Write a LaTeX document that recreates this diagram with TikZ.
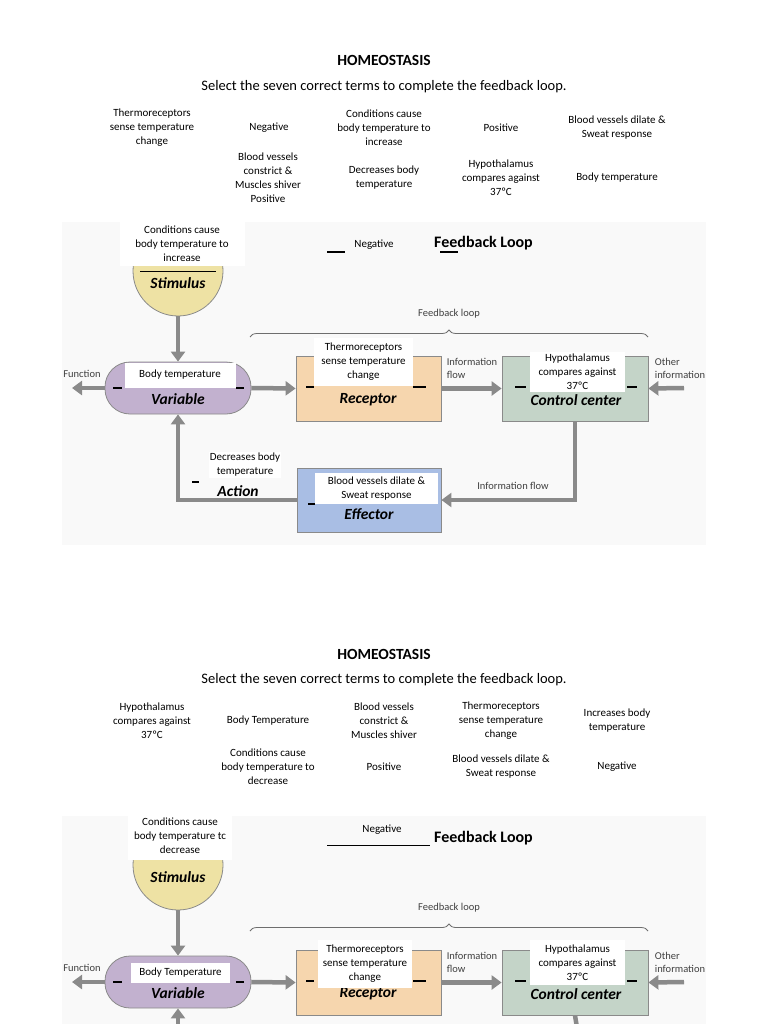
\documentclass[tikz,border=0pt]{standalone}
\usepackage{fontspec}
\setmainfont{Carlito}
\usetikzlibrary{arrows.meta,decorations.pathreplacing}
\definecolor{ag}{HTML}{8A8A8A}
\definecolor{bg}{HTML}{F9F9F9}
\definecolor{stimf}{HTML}{EEE2A4}
\definecolor{varf}{HTML}{C2B1CF}
\definecolor{recf}{HTML}{F6D6AE}
\definecolor{ctlf}{HTML}{C4D4C8}
\definecolor{efff}{HTML}{A9BEE4}
\tikzset{
 lab/.style={font=\fontsize{11}{14}\selectfont, align=center, inner sep=1pt},
 opt/.style={font=\fontsize{11}{14}\selectfont, align=center, inner sep=0pt},
 wbox/.style={lab, fill=white},
 small/.style={font=\fontsize{10.5}{13}\selectfont, align=left, text=black!75, inner sep=0pt},
 big/.style={font=\bfseries\itshape\fontsize{15.5}{17}\selectfont, inner sep=0pt},
 box/.style={draw=ag, line width=0.8pt},
 flow/.style={draw=ag, line width=4.5pt, -{Triangle[length=10pt,width=14pt]}},
 blankln/.style={line width=1.3pt},
 ttl/.style={font=\bfseries\fontsize{15.5}{18}\selectfont},
 sub/.style={font=\fontsize{14.5}{17}\selectfont},
 fbt/.style={font=\bfseries\fontsize{16}{18}\selectfont, anchor=west, inner sep=0pt},
}
\newcommand{\fbcore}{%
 \fill[bg] (62,222) rectangle (706,545);
 \node[circle, box, fill=stimf, minimum size=90pt] (stim) at (178,271) {};
 \node[box, fill=varf, rounded corners=25pt, minimum width=146pt, minimum height=52pt] (var) at (178,388) {};
 \node[box, fill=recf, minimum width=145pt, minimum height=65pt] (rec) at (368.5,388.5) {};
 \node[box, fill=ctlf, minimum width=146pt, minimum height=65pt] (ctl) at (575,388.5) {};
 \coordinate (fn) at (72,388);
 \coordinate (oi) at (684,388);
 \draw[flow] (stim.south) -- (var.north);
 \draw[flow] (var.west) -- (fn);
 \draw[flow] (var.east) -- (rec.west);
 \draw[flow] (rec.east) -- (ctl.west);
 \draw[flow] (oi) -- (ctl.east);
 \node[small] (fnl) at (82,374) {Function};
 \node[small] (ifl) at (472,368) {Information\\flow};
 \node[small] (oil) at (680,368) {Other\\information};
 \draw[ag!80!black, line width=0.8pt, decorate, decoration={brace, amplitude=7pt}] (250,337) -- (648,337);
 \node[small] (fbl) at (449,314) {Feedback loop};
 \node[big] (vart) at (178,399) {Variable};
 \node[big] (rect) at (368,400) {Receptor};
 \node[big] (ctlt) at (576,400) {Control center};
 \node[big] (stimt) at (178,283) {Stimulus};
 \draw[blankln] (113,388) -- (122,388) (236,388) -- (244,388);
 \draw[blankln] (306,387) -- (314,387) (413,387) -- (426,387);
 \draw[blankln] (515,387) -- (526,387) (627,387) -- (637,387);
}
\begin{document}
\begin{tikzpicture}[x=1pt,y=-1pt]
\useasboundingbox[fill=white] (0,0) rectangle (768,1024);
\begin{scope}
\clip (0,0) rectangle (768,1024);
% ---------- top page ----------
\node[ttl] (t1) at (384,60) {HOMEOSTASIS};
\node[sub] (s1) at (384,87) {Select the seven correct terms to complete the feedback loop.};
\node[opt] (a1) at (152,128) {Thermoreceptors\\sense temperature\\change};
\node[opt] (a2) at (269,128) {Negative};
\node[opt] (a3) at (384,128) {Conditions cause\\body temperature to\\increase};
\node[opt] (a4) at (501,128) {Positive};
\node[opt] (a5) at (617,128) {Blood vessels dilate \&\\Sweat response};
\node[opt] (a6) at (268,178) {Blood vessels\\constrict \&\\Muscles shiver\\Positive};
\node[opt] (a7) at (384,178) {Decreases body\\temperature};
\node[opt] (a8) at (501,178) {Hypothalamus\\compares against\\37ºC};
\node[opt] (a9) at (617,178) {Body temperature};
\begin{scope}[name prefix=t-]
\fbcore
\node[box, fill=efff, minimum width=144pt, minimum height=64pt] (eff) at (369,500) {};
\draw[flow] (ctl.south) |- (eff.east);
\draw[flow] (eff.west) -| (var.south);
\node[big] (efft) at (369,514) {Effector};
\node[big] (act) at (238,491) {Action};
\node[small] (ifl2) at (513,486) {Information flow};
\node[wbox, minimum width=125pt, minimum height=44pt] (stl) at (182,244) {Conditions cause\\body temperature to\\increase};
\draw[line width=0.8pt] (140,271) -- (216,271);
\node[wbox, minimum width=111pt, minimum height=25pt] (vl) at (180,375) {Body temperature};
\node[wbox, minimum width=99pt, minimum height=48pt] (rl) at (363.5,362) {Thermoreceptors\\sense temperature\\change};
\node[wbox, minimum width=95pt, minimum height=40pt, inner sep=0pt] (cl) at (577.5,372) {Hypothalamus\\compares against\\37ºC};
\node[wbox, minimum width=123pt, minimum height=31pt] (el) at (376.5,488.5) {Blood vessels dilate \&\\Sweat response};
\node[wbox, minimum width=70pt] (al) at (245,465) {Decreases body\\temperature};
\draw[blankln] (308,504) -- (315,504) (192,482) -- (199,482);
\draw[blankln] (327,252) -- (345,252) (440,252) -- (458,252);
\node[lab] (neg) at (374,245) {Negative};
\node[fbt] (fbt) at (434,243) {Feedback Loop};
\end{scope}
% ---------- bottom page ----------
\node[ttl] (t2) at (384,654) {HOMEOSTASIS};
\node[sub] (s2) at (384,680) {Select the seven correct terms to complete the feedback loop.};
\node[opt] (b1) at (152,721) {Hypothalamus\\compares against\\37ºC};
\node[opt] (b2) at (268,721) {Body Temperature};
\node[opt] (b3) at (384,721) {Blood vessels\\constrict \&\\Muscles shiver};
\node[opt] (b4) at (501,721) {Thermoreceptors\\sense temperature\\change};
\node[opt] (b5) at (617,721) {Increases body\\temperature};
\node[opt] (b6) at (268,767) {Conditions cause\\body temperature to\\decrease};
\node[opt] (b7) at (384,767) {Positive};
\node[opt] (b8) at (501,767) {Blood vessels dilate \&\\Sweat response};
\node[opt] (b9) at (617,767) {Negative};
\begin{scope}[yshift=-594pt, name prefix=b-]
\fbcore
\coordinate (bl) at (178,440);
\coordinate (br) at (578,440);
\draw[flow] (bl) -- (var.south);
\draw[ag, line width=4.5pt] (ctl.south) -- (br);
\node[wbox, minimum width=104pt, minimum height=48pt] (stl) at (180,242) {Conditions cause\\body temperature tc\\decrease};
\node[wbox, minimum width=99pt, minimum height=20pt] (vl) at (180.5,379) {Body Temperature};
\node[wbox, minimum width=94pt, minimum height=48pt] (rl) at (365,370) {Thermoreceptors\\sense temperature\\change};
\node[wbox, minimum width=95pt, minimum height=45pt, inner sep=0pt] (cl) at (577.5,368.5) {Hypothalamus\\compares against\\37ºC};
\draw[line width=0.8pt] (327,251) -- (430,251);
\node[lab] (neg) at (382,236) {Negative};
\node[fbt] (fbt) at (434,244) {Feedback Loop};
\end{scope}
\end{scope}
\end{tikzpicture}
\end{document}
